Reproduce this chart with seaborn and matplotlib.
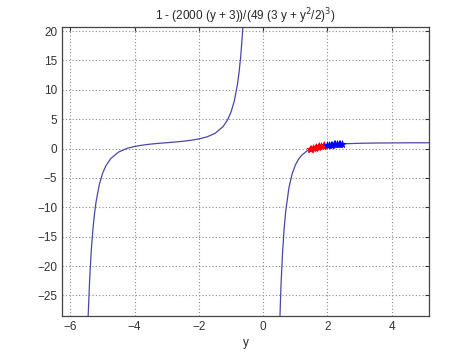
import matplotlib
matplotlib.use("Agg")
import matplotlib.pyplot as plt
import seaborn as sns

# values, branch between the two poles
y_mid = [-5.45, -5.40, -5.35, -5.30, -5.25, -5.20, -5.10, -5.00, -4.90, -4.75,
         -4.50, -4.25, -4.00, -3.75, -3.50, -3.25, -3.00, -2.75, -2.50, -2.25,
         -2.00, -1.75, -1.50, -1.25, -1.10, -1.00, -0.90, -0.80, -0.75, -0.70,
         -0.65, -0.60]
f_mid = [-28.70, -22.04, -17.25, -13.71, -11.03, -8.98, -6.09, -4.23, -2.96, -1.73,
         -0.59, 0.01, 0.36, 0.59, 0.76, 0.89, 1.00, 1.11, 1.24, 1.41,
         1.64, 1.99, 2.59, 3.73, 4.96, 6.23, 8.09, 10.98, 13.03, 15.71,
         19.25, 24.04]

# right branch (y > 0)
y_right = [0.50, 0.55, 0.60, 0.65, 0.70, 0.80, 0.90, 1.00, 1.10, 1.20, 1.35,
           1.50, 1.75, 2.00, 2.25, 2.50, 3.00, 3.50, 4.00, 4.50, 5.00, 5.20]
f_right = [-32.29, -23.80, -17.93, -13.76, -10.71, -6.71, -4.32, -2.81, -1.81, -1.13, -0.45,
           -0.03, 0.38, 0.60, 0.73, 0.81, 0.90, 0.94, 0.96, 0.98, 0.98, 0.99]

# marked points
red_y = [1.45, 1.50, 1.55, 1.60, 1.65, 1.70, 1.75, 1.80, 1.85, 1.90]
red_f = [-0.15, -0.03, 0.07, 0.16, 0.25, 0.32, 0.38, 0.43, 0.48, 0.53]
blue_y = [2.00, 2.05, 2.10, 2.15, 2.20, 2.25, 2.30, 2.35, 2.40, 2.45]
blue_f = [0.60, 0.63, 0.66, 0.69, 0.71, 0.73, 0.75, 0.77, 0.78, 0.80]

x_ticks = [-6, -4, -2, 0, 2, 4]
y_ticks = [-25, -20, -15, -10, -5, 0, 5, 10, 15, 20]

sns.set_style("white")
plt.rcParams['font.family'] = ['Liberation Sans', 'DejaVu Sans']

fig = plt.figure(figsize=(4.74, 3.55), dpi=100)
ax = fig.add_axes([0.131, 0.110, 0.774, 0.814])

line_col = '#4848a8'
sns.lineplot(x=y_mid, y=f_mid, sort=False, color=line_col, linewidth=0.9, ax=ax)
sns.lineplot(x=y_right, y=f_right, sort=False, color=line_col, linewidth=0.9, ax=ax)

sns.scatterplot(x=red_y, y=red_f, marker='*', color='red', s=30, linewidth=0.5,
                edgecolor='red', ax=ax, zorder=3)
sns.scatterplot(x=blue_y, y=blue_f, marker='*', color='blue', s=30, linewidth=0.5,
                edgecolor='blue', ax=ax, zorder=3)

ax.set_xlim(-6.26, 5.16)
ax.set_ylim(-28.5, 20.7)
ax.set_xticks(x_ticks)
ax.set_yticks(y_ticks)
ax.grid(True, linestyle=(0, (1, 2)), color='#8a8a8a', linewidth=0.8)
ax.tick_params(direction='in', top=True, right=True, length=3, labelsize=8.5,
               colors='#333333')
for sp in ax.spines.values():
    sp.set_color('#444444')
    sp.set_linewidth(0.9)

ax.set_title('1 - (2000 (y + 3))/(49 (3 y + y$^{2}$/2)$^{3}$)', fontsize=8.5, pad=5)
ax.set_xlabel('y', fontsize=8.5, labelpad=3)

fig.savefig('out.png', dpi=100)
